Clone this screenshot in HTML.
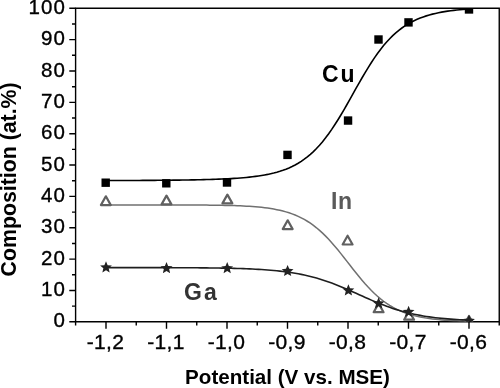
<!DOCTYPE html>
<html><head><meta charset="utf-8"><style>
html,body{margin:0;padding:0;background:#fff;}
svg{display:block;}
text{font-family:"Liberation Sans",Arial,sans-serif;}
</style></head><body>
<svg width="500" height="388" viewBox="0 0 500 388">
<defs><clipPath id="pc"><rect x="0" y="8.30" width="500" height="313.50"/></clipPath></defs>
<rect width="500" height="388" fill="#fff"/>
<g fill="none" stroke="#000" stroke-width="1.4">
<path d="M75.60,8.30 H499.25 V321.80 H75.60 Z"/>
<path d="M69.30,321.80 H75.60 M72.00,306.12 H75.60 M69.30,290.45 H75.60 M72.00,274.78 H75.60 M69.30,259.10 H75.60 M72.00,243.43 H75.60 M69.30,227.75 H75.60 M72.00,212.08 H75.60 M69.30,196.40 H75.60 M72.00,180.73 H75.60 M69.30,165.05 H75.60 M72.00,149.38 H75.60 M69.30,133.70 H75.60 M72.00,118.03 H75.60 M69.30,102.35 H75.60 M72.00,86.68 H75.60 M69.30,71.00 H75.60 M72.00,55.32 H75.60 M69.30,39.65 H75.60 M72.00,23.98 H75.60 M69.30,8.30 H75.60 M75.60,321.80 V325.50 M106.00,321.80 V328.80 M136.25,321.80 V325.50 M166.50,321.80 V328.80 M196.75,321.80 V325.50 M227.00,321.80 V328.80 M257.25,321.80 V325.50 M287.50,321.80 V328.80 M317.75,321.80 V325.50 M348.00,321.80 V328.80 M378.25,321.80 V325.50 M408.50,321.80 V328.80 M438.75,321.80 V325.50 M469.00,321.80 V328.80 M499.25,321.80 V325.50"/>
</g>
<g font-size="20.5" letter-spacing="1" text-anchor="end" fill="#000" stroke="#000" stroke-width="0.35"><text x="65.8" y="327.40">0</text><text x="65.8" y="296.05">10</text><text x="65.8" y="264.70">20</text><text x="65.8" y="233.35">30</text><text x="65.8" y="202.00">40</text><text x="65.8" y="170.65">50</text><text x="65.8" y="139.30">60</text><text x="65.8" y="107.95">70</text><text x="65.8" y="76.60">80</text><text x="65.8" y="45.25">90</text><text x="65.8" y="13.90">100</text></g>
<g font-size="21" letter-spacing="0.3" text-anchor="middle" fill="#000" stroke="#000" stroke-width="0.35"><text x="105.50" y="349">-1,2</text><text x="166.00" y="349">-1,1</text><text x="226.50" y="349">-1,0</text><text x="287.00" y="349">-0,9</text><text x="347.50" y="349">-0,8</text><text x="408.00" y="349">-0,7</text><text x="468.50" y="349">-0,6</text></g>
<text x="287.5" y="383.7" font-size="20.6" font-weight="bold" text-anchor="middle">Potential (V vs. MSE)</text>
<text transform="translate(16.2,179.4) rotate(-90)" font-size="21.3" font-weight="bold" text-anchor="middle">Composition (at.%)</text>
<g clip-path="url(#pc)">
<path d="M106.00,204.88 L109.05,204.88 L112.10,204.88 L115.15,204.88 L118.20,204.88 L121.25,204.88 L124.30,204.88 L127.35,204.88 L130.40,204.88 L133.45,204.88 L136.50,204.88 L139.55,204.88 L142.61,204.89 L145.66,204.89 L148.71,204.89 L151.76,204.89 L154.81,204.90 L157.86,204.90 L160.91,204.90 L163.96,204.91 L167.01,204.91 L170.06,204.92 L173.11,204.92 L176.16,204.93 L179.21,204.94 L182.26,204.95 L185.31,204.96 L188.36,204.97 L191.41,204.99 L194.46,205.00 L197.51,205.02 L200.56,205.05 L203.61,205.07 L206.66,205.10 L209.71,205.13 L212.76,205.17 L215.82,205.21 L218.87,205.26 L221.92,205.31 L224.97,205.38 L228.02,205.45 L231.07,205.53 L234.12,205.62 L237.17,205.73 L240.22,205.85 L243.27,205.99 L246.32,206.15 L249.37,206.34 L252.42,206.54 L255.47,206.78 L258.52,207.05 L261.57,207.36 L264.62,207.71 L267.67,208.10 L270.72,208.55 L273.77,209.06 L276.82,209.64 L279.87,210.29 L282.92,211.03 L285.97,211.86 L289.03,212.80 L292.08,213.85 L295.13,215.03 L298.18,216.35 L301.23,217.82 L304.28,219.45 L307.33,221.25 L310.38,223.24 L313.43,225.42 L316.48,227.80 L319.53,230.37 L322.58,233.15 L325.63,236.14 L328.68,239.31 L331.73,242.66 L334.78,246.18 L337.83,249.83 L340.88,253.60 L343.93,257.46 L346.98,261.37 L350.03,265.30 L353.08,269.21 L356.13,273.07 L359.18,276.84 L362.24,280.49 L365.29,284.01 L368.34,287.36 L371.39,290.54 L374.44,293.52 L377.49,296.30 L380.54,298.88 L383.59,301.25 L386.64,303.43 L389.69,305.42 L392.74,307.22 L395.79,308.85 L398.84,310.32 L401.89,311.64 L404.94,312.82 L407.99,313.87 L411.04,314.81 L414.09,315.64 L417.14,316.38 L420.19,317.04 L423.24,317.61 L426.29,318.12 L429.34,318.57 L432.39,318.97 L435.45,319.32 L438.50,319.62 L441.55,319.89 L444.60,320.13 L447.65,320.34 L450.70,320.52 L453.75,320.68 L456.80,320.82 L459.85,320.94 L462.90,321.05 L465.95,321.14 L469.00,321.23" fill="none" stroke="#707070" stroke-width="1.5"/>
<path d="M106.00,267.59 L109.05,267.59 L112.10,267.59 L115.15,267.59 L118.20,267.60 L121.25,267.60 L124.30,267.60 L127.35,267.60 L130.40,267.60 L133.45,267.61 L136.50,267.61 L139.55,267.61 L142.61,267.62 L145.66,267.62 L148.71,267.63 L151.76,267.63 L154.81,267.64 L157.86,267.64 L160.91,267.65 L163.96,267.66 L167.01,267.66 L170.06,267.67 L173.11,267.68 L176.16,267.70 L179.21,267.71 L182.26,267.72 L185.31,267.74 L188.36,267.75 L191.41,267.77 L194.46,267.79 L197.51,267.82 L200.56,267.84 L203.61,267.87 L206.66,267.90 L209.71,267.94 L212.76,267.98 L215.82,268.02 L218.87,268.07 L221.92,268.12 L224.97,268.18 L228.02,268.24 L231.07,268.31 L234.12,268.39 L237.17,268.47 L240.22,268.57 L243.27,268.67 L246.32,268.79 L249.37,268.91 L252.42,269.05 L255.47,269.21 L258.52,269.38 L261.57,269.57 L264.62,269.77 L267.67,270.00 L270.72,270.24 L273.77,270.52 L276.82,270.81 L279.87,271.14 L282.92,271.49 L285.97,271.88 L289.03,272.30 L292.08,272.76 L295.13,273.26 L298.18,273.81 L301.23,274.39 L304.28,275.02 L307.33,275.71 L310.38,276.44 L313.43,277.22 L316.48,278.06 L319.53,278.95 L322.58,279.89 L325.63,280.89 L328.68,281.94 L331.73,283.05 L334.78,284.20 L337.83,285.40 L340.88,286.64 L343.93,287.92 L346.98,289.23 L350.03,290.57 L353.08,291.93 L356.13,293.30 L359.18,294.68 L362.24,296.05 L365.29,297.42 L368.34,298.78 L371.39,300.11 L374.44,301.42 L377.49,302.69 L380.54,303.93 L383.59,305.12 L386.64,306.26 L389.69,307.35 L392.74,308.40 L395.79,309.38 L398.84,310.32 L401.89,311.20 L404.94,312.03 L407.99,312.80 L411.04,313.52 L414.09,314.20 L417.14,314.82 L420.19,315.40 L423.24,315.93 L426.29,316.42 L429.34,316.88 L432.39,317.29 L435.45,317.67 L438.50,318.02 L441.55,318.34 L444.60,318.64 L447.65,318.90 L450.70,319.15 L453.75,319.37 L456.80,319.57 L459.85,319.75 L462.90,319.92 L465.95,320.07 L469.00,320.21" fill="none" stroke="#1e1e1e" stroke-width="1.6"/>
<path d="M106.00,180.56 L109.05,180.55 L112.10,180.55 L115.15,180.54 L118.20,180.53 L121.25,180.51 L124.30,180.50 L127.35,180.49 L130.40,180.48 L133.45,180.46 L136.50,180.45 L139.55,180.43 L142.61,180.41 L145.66,180.40 L148.71,180.38 L151.76,180.36 L154.81,180.33 L157.86,180.31 L160.91,180.29 L163.96,180.26 L167.01,180.23 L170.06,180.20 L173.11,180.16 L176.16,180.13 L179.21,180.09 L182.26,180.05 L185.31,180.00 L188.36,179.95 L191.41,179.90 L194.46,179.84 L197.51,179.78 L200.56,179.72 L203.61,179.64 L206.66,179.56 L209.71,179.48 L212.76,179.38 L215.82,179.28 L218.87,179.16 L221.92,179.04 L224.97,178.90 L228.02,178.75 L231.07,178.58 L234.12,178.40 L237.17,178.19 L240.22,177.97 L243.27,177.72 L246.32,177.44 L249.37,177.14 L252.42,176.79 L255.47,176.41 L258.52,175.99 L261.57,175.52 L264.62,174.99 L267.67,174.41 L270.72,173.75 L273.77,173.03 L276.82,172.21 L279.87,171.30 L282.92,170.29 L285.97,169.16 L289.03,167.90 L292.08,166.51 L295.13,164.95 L298.18,163.23 L301.23,161.33 L304.28,159.22 L307.33,156.90 L310.38,154.36 L313.43,151.57 L316.48,148.53 L319.53,145.23 L322.58,141.67 L325.63,137.84 L328.68,133.75 L331.73,129.39 L334.78,124.80 L337.83,119.99 L340.88,114.98 L343.93,109.80 L346.98,104.49 L350.03,99.10 L353.08,93.66 L356.13,88.22 L359.18,82.82 L362.24,77.51 L365.29,72.33 L368.34,67.31 L371.39,62.49 L374.44,57.89 L377.49,53.53 L380.54,49.43 L383.59,45.59 L386.64,42.02 L389.69,38.71 L392.74,35.66 L395.79,32.87 L398.84,30.32 L401.89,27.99 L404.94,25.88 L407.99,23.97 L411.04,22.24 L414.09,20.68 L417.14,19.28 L420.19,18.02 L423.24,16.88 L426.29,15.87 L429.34,14.96 L432.39,14.14 L435.45,13.41 L438.50,12.75 L441.55,12.16 L444.60,11.64 L447.65,11.16 L450.70,10.74 L453.75,10.36 L456.80,10.01 L459.85,9.71 L462.90,9.43 L465.95,9.18 L469.00,8.95" fill="none" stroke="#000" stroke-width="1.6"/>
<g fill="none" stroke="#606060" stroke-width="2.2" stroke-linejoin="round"><path d="M105.85,196.30 L110.80,205.10 L100.90,205.10 Z"/><path d="M166.50,195.60 L171.45,204.40 L161.55,204.40 Z"/><path d="M227.40,194.60 L232.35,203.40 L222.45,203.40 Z"/><path d="M287.70,220.30 L292.65,229.10 L282.75,229.10 Z"/><path d="M347.60,235.70 L352.55,244.50 L342.65,244.50 Z"/><path d="M378.60,303.40 L383.55,312.20 L373.65,312.20 Z"/><path d="M409.10,310.90 L414.05,319.70 L404.15,319.70 Z"/><path d="M469.00,316.10 L473.95,324.90 L464.05,324.90 Z"/></g>
<g fill="#222"><path d="M106.00,261.30 L107.64,265.24 L111.90,265.58 L108.65,268.36 L109.64,272.52 L106.00,270.29 L102.36,272.52 L103.35,268.36 L100.10,265.58 L104.36,265.24 Z"/><path d="M166.50,262.00 L168.14,265.94 L172.40,266.28 L169.15,269.06 L170.14,273.22 L166.50,270.99 L162.86,273.22 L163.85,269.06 L160.60,266.28 L164.86,265.94 Z"/><path d="M227.20,262.10 L228.84,266.04 L233.10,266.38 L229.85,269.16 L230.84,273.32 L227.20,271.09 L223.56,273.32 L224.55,269.16 L221.30,266.38 L225.56,266.04 Z"/><path d="M287.60,264.90 L289.24,268.84 L293.50,269.18 L290.25,271.96 L291.24,276.12 L287.60,273.89 L283.96,276.12 L284.95,271.96 L281.70,269.18 L285.96,268.84 Z"/><path d="M348.40,284.20 L350.04,288.14 L354.30,288.48 L351.05,291.26 L352.04,295.42 L348.40,293.19 L344.76,295.42 L345.75,291.26 L342.50,288.48 L346.76,288.14 Z"/><path d="M378.60,297.30 L380.24,301.24 L384.50,301.58 L381.25,304.36 L382.24,308.52 L378.60,306.29 L374.96,308.52 L375.95,304.36 L372.70,301.58 L376.96,301.24 Z"/><path d="M408.60,305.80 L410.24,309.74 L414.50,310.08 L411.25,312.86 L412.24,317.02 L408.60,314.79 L404.96,317.02 L405.95,312.86 L402.70,310.08 L406.96,309.74 Z"/><path d="M469.00,314.60 L470.64,318.54 L474.90,318.88 L471.65,321.66 L472.64,325.82 L469.00,323.59 L465.36,325.82 L466.35,321.66 L463.10,318.88 L467.36,318.54 Z"/></g>
<g fill="#000"><rect x="101.50" y="178.50" width="8.4" height="8.4"/><rect x="162.10" y="179.10" width="8.4" height="8.4"/><rect x="222.80" y="178.30" width="8.4" height="8.4"/><rect x="283.30" y="150.70" width="8.4" height="8.4"/><rect x="343.85" y="116.35" width="8.4" height="8.4"/><rect x="374.30" y="35.30" width="8.4" height="8.4"/><rect x="404.30" y="18.20" width="8.4" height="8.4"/><rect x="464.80" y="5.25" width="8.4" height="8.4"/></g>
</g>
<text transform="translate(322,81.7) scale(1,1.045)" font-size="23" font-weight="bold" letter-spacing="2">Cu</text>
<text x="331" y="209" font-size="23" font-weight="bold" fill="#5a5a5a" letter-spacing="0.6">In</text>
<text transform="translate(184,300) scale(1,1.03)" font-size="23" font-weight="bold" fill="#333" letter-spacing="2">Ga</text>
</svg>
</body></html>
